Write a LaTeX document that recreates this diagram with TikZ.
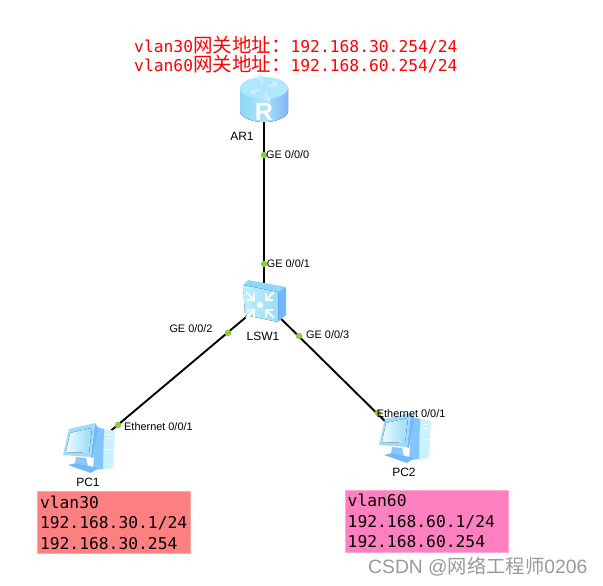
\documentclass[tikz,border=0pt]{standalone}
\usepackage{fontspec}
\setmainfont{Liberation Sans}
\newfontfamily\monofont{DejaVu Sans Mono}
\newfontfamily\cjk{Noto Sans CJK SC}
\definecolor{portgreen}{HTML}{8CCB3C}
\definecolor{boxred}{HTML}{FF8080}
\definecolor{boxpink}{HTML}{FF80C0}
\definecolor{iconlight}{HTML}{BDEEFF}
\definecolor{iconmid}{HTML}{8FD6F8}
\definecolor{icondark}{HTML}{70B8FF}
\begin{document}
\begin{tikzpicture}[x=1pt, y=-1pt]
\tikzset{
  devnoeud/.style={inner sep=0pt, minimum size=0pt},
  portnoeud/.style={draw=none, fill=portgreen, circle, inner sep=0pt, minimum size=6.5pt},
  portlabel/.style={inner sep=0pt, anchor=west, font=\fontsize{10.9}{12}\selectfont},
  devlabel/.style={inner sep=0pt, font=\fontsize{12}{14}\selectfont},
  redlabel/.style={inner sep=0pt, anchor=west, text=red, font=\monofont\fontsize{16.3}{19}\selectfont},
  vlanbox/.style={draw=#1!70!white, fill=#1, inner sep=0pt, align=left, minimum height=62pt,
    font=\monofont\fontsize{16.3}{20.5}\selectfont},
  routericon/.pic={
    \fill[left color=iconmid, right color=iconmid!80!blue!90!white, middle color=iconlight!60!iconmid]
      (-24,-14) -- (-24,9) arc[start angle=180, end angle=360, x radius=24, y radius=-11] -- (24,-14) -- cycle;
    \fill[iconlight!70!iconmid] (0,-14) ellipse[x radius=24, y radius=11];
    \foreach \a in {20,110,200,290}
      \draw[white!60!iconmid, line width=1.4pt, rotate around={\a:(0,-14)}] (5,-14) -- (14,-14) (10,-17) -- (14,-14) -- (10,-11);
    \node[inner sep=0pt, text=white, font=\bfseries\fontsize{25}{25}\selectfont] at (0,10) {R};
  },
  switchicon/.pic={
    \fill[icondark] (14,-10) -- (22,-15) -- (22,13) -- (14,20) -- cycle;
    \fill[iconmid] (-21,-17) -- (-16,-22) -- (22,-15) -- (14,-10) -- cycle;
    \fill[left color=iconlight, right color=iconmid!70!iconlight] (-21,-17) -- (14,-10) -- (14,20) -- (-19,13) -- cycle;
    \fill[white] (-4,3) circle[radius=3pt];
    \begin{scope}[shift={(-4,3)}]
    \foreach \sx/\sy in {-1/-1,1/-1,-1/1,1/1}
      \draw[white, line width=1.9pt] (\sx*14,\sy*13) -- (\sx*6,\sy*5)
        (\sx*13,\sy*5) -- (\sx*6,\sy*5) -- (\sx*6,\sy*12);
    \end{scope}
  },
  pcicon/.pic={
    \fill[iconlight!80!white] (8,-23) -- (27,-19) -- (25,18) -- (5,20) -- cycle;
    \fill[icondark!75!iconlight] (8,-23) -- (16,-21) -- (15,19) -- (5,20) -- cycle;
    \draw[white, line width=.6pt] (18,-16) -- (25,-15) (18,-12) -- (25,-11) (18,-1) -- (25,0);
    \fill[icondark] (-20,15) -- (-12,13) -- (10,18) -- (3,23) -- cycle;
    \fill[icondark!80!white] (-12,7) -- (-2,8) -- (0,16) -- (-13,13) -- cycle;
    \fill[icondark] (7,-27) -- (10,-22) -- (5,8) -- (3,7) -- cycle;
    \fill[iconmid!70!iconlight] (-19,-21) -- (7,-27) -- (3,7) -- (-25,5) -- cycle;
    \fill[left color=iconlight!30!white, right color=iconmid!80!iconlight] (-18,-17) -- (4,-22) -- (1,3) -- (-22,2) -- cycle;
  }
}
\useasboundingbox (0,0) rectangle (603,586);
\node[redlabel] (GWA) at (134,45) {vlan30{\cjk\fontsize{19.5}{19}\selectfont 网关地址：}192.168.30.254/24};
\node[redlabel] (GWB) at (134,64) {vlan60{\cjk\fontsize{19.5}{19}\selectfont 网关地址：}192.168.60.254/24};
% les appareils
\node[devnoeud] (AR1) at (264,102) {};
\node[devnoeud] (LSW1) at (264,302) {};
\node[devnoeud] (PC1) at (88,450) {};
\node[devnoeud] (PC2) at (404,440) {};
\draw[line width=2.1pt] (AR1.center) -- (LSW1.center);
\draw[line width=1.9pt] (LSW1.center) -- (PC1.center);
\draw[line width=1.9pt] (LSW1.center) -- (PC2.center);
\pic at (AR1) {routericon};
\pic at (LSW1) {switchicon};
\pic at (PC1) {pcicon};
\pic at (PC2) {pcicon};
\node[devlabel] (LAR1) at (242,136) {AR1};
\node[devlabel] (LLSW1) at (263,336) {LSW1};
\node[devlabel] (LPC1) at (88,482) {PC1};
\node[devlabel] (LPC2) at (404,472) {PC2};
% les ports
\node[portnoeud] (P1) at (264,155) {};
\node[portnoeud] (P2) at (264,264) {};
\node[portnoeud] (P3) at (228,333) {};
\node[portnoeud] (P4) at (299,336) {};
\node[portnoeud] (P5) at (118,425) {};
\node[portnoeud] (P6) at (378,413) {};
\node[portlabel] (T1) at (266,155) {GE 0/0/0};
\node[portlabel] (T2) at (266.7,264) {GE 0/0/1};
\node[portlabel] (T3) at (169.3,329) {GE 0/0/2};
\node[portlabel] (T4) at (306,335) {GE 0/0/3};
\node[portlabel] (T5) at (124,427) {Ethernet 0/0/1};
\node[portlabel] (T6) at (376.7,414) {Ethernet 0/0/1};
% les vlan
\node[vlanbox=boxred, minimum width=153pt, text width=148pt] (VA) at (114,522.5) {vlan30\\192.168.30.1/24\\192.168.30.254};
\node[vlanbox=boxpink, minimum width=163pt, text width=158pt] (VB) at (426.7,521) {vlan60\\192.168.60.1/24\\192.168.60.254};
\node[inner sep=0pt, anchor=west, text=black!40, font=\fontsize{19.3}{20}\selectfont] (WM) at (368,567) {CSDN @{\cjk 网络工程师}0206};
\end{tikzpicture}
\end{document}
